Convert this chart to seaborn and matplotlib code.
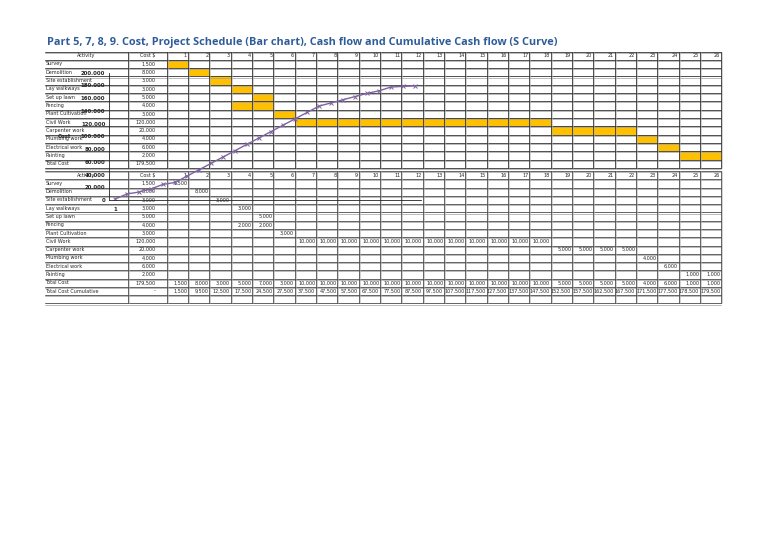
import numpy as np
import matplotlib
matplotlib.use("Agg")
import matplotlib.pyplot as plt
import seaborn as sns

# ---- data read from the sheet ----
activities = ["Survey", "Demolition", "Site establishment", "Lay walkways", "Set up lawn",
              "Fencing", "Plant Cultivation", "Civil Work", "Carpenter work",
              "Plumbing work", "Electrical work", "Painting"]
costs = [1500, 8000, 3000, 3000, 5000, 4000, 3000, 120000, 20000, 4000, 6000, 2000]
total_cost = 179500
start = [1, 2, 3, 4, 5, 4, 6, 7, 19, 23, 24, 25]
duration = [1, 1, 1, 1, 1, 2, 1, 12, 4, 1, 1, 2]
per_period = [1500, 8000, 3000, 3000, 5000, 2000, 3000, 10000, 5000, 4000, 6000, 1000]
periods = list(range(1, 27))
period_total = [1500, 8000, 3000, 5000, 7000, 3000, 10000, 10000, 10000, 10000, 10000, 10000,
                10000, 10000, 10000, 10000, 10000, 10000, 5000, 5000, 5000, 5000, 4000, 6000,
                1000, 1000]
cumulative = [1500, 9500, 12500, 17500, 24500, 27500, 37500, 47500, 57500, 67500, 77500,
              87500, 97500, 107500, 117500, 127500, 137500, 147500, 152500, 157500, 162500,
              167500, 171500, 177500, 178500, 179500]
y_ticks = list(range(0, 200001, 20000))

sns.set_style("white")
plt.rcParams["font.family"] = ["Liberation Sans Narrow", "DejaVu Sans"]

W, H = 768, 543
fig = plt.figure(figsize=(W / 100, H / 100), dpi=100)


def box(x0, y0, x1, y1):
    return [x0 / W, 1 - y1 / H, (x1 - x0) / W, (y1 - y0) / H]


# layout of the sheet (pixels)
x_left, x_cost, x_p0, cw = 45, 128, 166.7, 21.33
x_right = x_p0 + 26 * cw
up_top, rh_u = 51.5, 8.31
bt_top, rh_b = 171.0, 8.28
fs = 3.5
line_c = "#333333"

# gantt bars
ax_g = fig.add_axes(box(x_p0, up_top + rh_u, x_right, up_top + 13 * rh_u))
ax_g.barh(np.arange(len(activities)), duration, left=np.array(start) - 1, height=1,
          align="edge", color="#FFC000", linewidth=0)
ax_g.set_xlim(0, 26)
ax_g.set_ylim(len(activities), 0)
ax_g.axis("off")
ax_g.set_zorder(1)

# sheet grid and text
ax = fig.add_axes([0, 0, 1, 1])
ax.set_xlim(0, W)
ax.set_ylim(H, 0)
ax.axis("off")
ax.patch.set_alpha(0)
ax.set_zorder(2)

col_edges = [x_cost, x_p0] + [x_p0 + k * cw for k in range(1, 27)]


def draw_table(top, rh, nrows, dark):
    for k in range(nrows + 1):
        y = top + k * rh
        ax.plot([x_left, x_right], [y, y], color=dark, lw=0.6)
        ax.plot([x_left, x_right], [y + 1.1, y + 1.1], color="#a0a0a0", lw=0.5)
    for x in col_edges:
        ax.plot([x, x], [top, top + nrows * rh], color=dark, lw=0.6)
        ax.plot([x + 1.0, x + 1.0], [top, top + nrows * rh], color="#b0b0b0", lw=0.4)


def header(top, rh):
    yc = top + rh / 2
    ax.text((x_left + x_cost) / 2, yc, "Activity", ha="center", va="center", fontsize=fs)
    ax.text(155.5, yc, "Cost $", ha="right", va="center", fontsize=fs)
    for p in periods:
        ax.text(x_p0 + p * cw - 1, yc, str(p), ha="right", va="center", fontsize=fs)


draw_table(up_top, rh_u, 14, line_c)
draw_table(bt_top, rh_b, 16, "#4a4a4a")
header(up_top, rh_u)
header(bt_top, rh_b)

for i, (name, c) in enumerate(zip(activities + ["Total Cost"], costs + [total_cost])):
    for top, rh in [(up_top, rh_u), (bt_top, rh_b)]:
        yc = top + (i + 1.5) * rh
        ax.text(x_left + 0.5, yc, name, ha="left", va="center", fontsize=fs)
        ax.text(155.5, yc, f"{c:,}", ha="right", va="center", fontsize=fs)

ax.text(x_left + 0.5, bt_top + 14.5 * rh_b, "Total Cost Cumulative", ha="left", va="center", fontsize=fs)
ax.text(155.5, bt_top + 14.5 * rh_b, "-", ha="right", va="center", fontsize=fs)

for i in range(len(activities)):
    yc = bt_top + (i + 1.5) * rh_b
    for p in range(start[i], start[i] + duration[i]):
        ax.text(x_p0 + p * cw - 0.8, yc, f"{per_period[i]:,}", ha="right", va="center", fontsize=fs)
for p, tot, cum in zip(periods, period_total, cumulative):
    ax.text(x_p0 + p * cw - 0.8, bt_top + 13.5 * rh_b, f"{tot:,}", ha="right", va="center", fontsize=fs)
    ax.text(x_p0 + p * cw - 0.8, bt_top + 14.5 * rh_b, f"{cum:,}", ha="right", va="center", fontsize=fs)

ax.text(47, 43, "Part 5, 7, 8, 9. Cost, Project Schedule (Bar chart), Cash flow and Cumulative Cash flow (S Curve)",
        ha="left", va="center", fontsize=7.8, fontweight="bold", color="#2E5C9A",
        family=["Open Sans", "DejaVu Sans"])

# S curve chart on top
ax_s = fig.add_axes(box(109, 72.7, 421, 200))
ax_s.patch.set_alpha(0)
ax_s.set_zorder(3)
sns.lineplot(x=periods, y=cumulative, ax=ax_s, color="#8064A2", marker="x", markersize=2.6,
             markeredgewidth=0.7, markeredgecolor="#8064A2", linewidth=1.0)
ax_s.set_xlim(0.5, 26.5)
ax_s.set_ylim(0, 200000)
ax_s.set_yticks(y_ticks)
ax_s.set_yticklabels([f"{v:,}".replace(",", ".") for v in y_ticks], fontweight="bold",
                     fontsize=3.9, family="DejaVu Sans")
ax_s.set_xticks(periods)
ax_s.set_xticklabels(["1"] + [""] * 25, fontweight="bold", fontsize=3.9, family="DejaVu Sans")
ax_s.set_xticks([p + 0.5 for p in [0] + periods], minor=True)
ax_s.tick_params(axis="x", which="major", length=0, pad=5.2)
ax_s.tick_params(axis="x", which="minor", length=2.2, width=0.5, direction="out", color="#666666")
ax_s.tick_params(axis="y", length=1.6, width=0.5, pad=1.0, direction="out")
for s in ["top", "right"]:
    ax_s.spines[s].set_visible(False)
for s in ["left", "bottom"]:
    ax_s.spines[s].set_color("#222222")
    ax_s.spines[s].set_linewidth(0.6)
ax_s.set_xlabel("")
ax_s.set_ylabel("Cost", rotation=0, fontweight="bold", fontsize=3.9, family="DejaVu Sans")
ax_s.yaxis.set_label_coords(-0.144, 0.48)

fig.savefig("out.png", dpi=100)
